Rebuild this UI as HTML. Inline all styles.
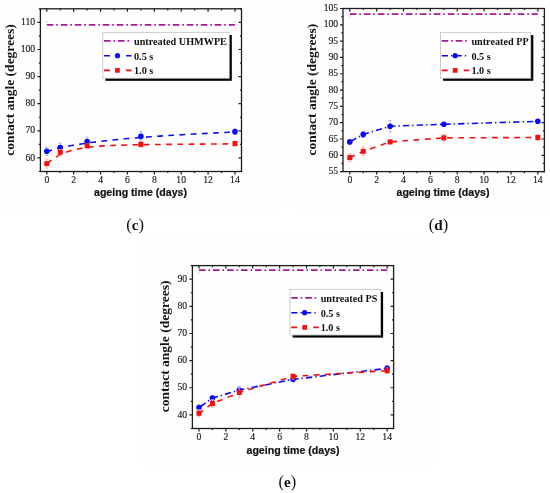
<!DOCTYPE html>
<html><head><meta charset="utf-8"><style>
html,body{margin:0;padding:0;background:#fff;}
svg{display:block;}
</style></head><body>
<svg width="550" height="493" viewBox="0 0 550 493">
<rect width="550" height="493" fill="#ffffff"/>
<rect x="0" y="0" width="283" height="209.5" fill="#fefefe"/>
<rect x="290" y="0" width="260" height="209.5" fill="#fefefe"/>
<rect x="139.6" y="238" width="294.9" height="227.6" fill="#fefefe"/>
<path d="M46.8,151.68 L49.94,150.65 L53.07,149.72 L56.21,148.88 L59.34,148.1 L62.48,147.38 L65.62,146.71 L68.75,146.09 L71.89,145.5 L75.02,144.95 L78.16,144.43 L81.3,143.93 L84.43,143.46 L87.57,143.01 L90.7,142.58 L93.84,142.17 L96.98,141.78 L100.11,141.4 L103.25,141.04 L106.38,140.69 L109.52,140.35 L112.66,140.02 L115.79,139.7 L118.93,139.4 L122.06,139.1 L125.2,138.82 L128.34,138.54 L131.47,138.26 L134.61,138 L137.74,137.74 L140.88,137.49 L144.02,137.25 L147.15,137.01 L150.29,136.78 L153.42,136.56 L156.56,136.33 L159.7,136.12 L162.83,135.91 L165.97,135.7 L169.1,135.5 L172.24,135.3 L175.38,135.1 L178.51,134.91 L181.65,134.73 L184.78,134.54 L187.92,134.37 L191.06,134.19 L194.19,134.02 L197.33,133.85 L200.46,133.68 L203.6,133.51 L206.74,133.35 L209.87,133.19 L213.01,133.04 L216.14,132.88 L219.28,132.73 L222.42,132.58 L225.55,132.44 L228.69,132.29 L231.82,132.15 L234.96,132.01" fill="none" stroke="#0a0af5" stroke-width="1.6" stroke-dasharray="5.8 5.4" stroke-dashoffset="0.36"/>
<path d="M46.8,163.93 L49.94,161.21 L53.07,158.87 L56.21,156.87 L59.34,155.16 L62.48,153.68 L65.62,152.42 L68.75,151.33 L71.89,150.4 L75.02,149.6 L78.16,148.91 L81.3,148.32 L84.43,147.81 L87.57,147.37 L90.7,146.99 L93.84,146.66 L96.98,146.38 L100.11,146.13 L103.25,145.92 L106.38,145.73 L109.52,145.57 L112.66,145.43 L115.79,145.3 L118.93,145.19 L122.06,145.09 L125.2,145.01 L128.34,144.93 L131.47,144.86 L134.61,144.8 L137.74,144.74 L140.88,144.69 L144.02,144.64 L147.15,144.6 L150.29,144.56 L153.42,144.52 L156.56,144.48 L159.7,144.45 L162.83,144.42 L165.97,144.39 L169.1,144.36 L172.24,144.33 L175.38,144.3 L178.51,144.27 L181.65,144.25 L184.78,144.22 L187.92,144.2 L191.06,144.17 L194.19,144.15 L197.33,144.13 L200.46,144.1 L203.6,144.08 L206.74,144.06 L209.87,144.03 L213.01,144.01 L216.14,143.99 L219.28,143.97 L222.42,143.94 L225.55,143.92 L228.69,143.9 L231.82,143.88 L234.96,143.85" fill="none" stroke="#f51010" stroke-width="1.6" stroke-dasharray="5.8 5.4" stroke-dashoffset="10.94"/>
<line x1="46.8" y1="24.93" x2="234.96" y2="24.93" stroke="#a8189a" stroke-width="1.7" stroke-dasharray="6.6 2.9 1.6 2.9"/>
<path d="M45.6,21.93 h2.4 M45.6,27.93 h2.4" stroke="#e9b7e4" stroke-width="0.8" fill="none"/>
<path d="M233.76,21.93 h2.4 M233.76,27.93 h2.4" stroke="#e9b7e4" stroke-width="0.8" fill="none"/>
<path d="M46.8,147.23 V155.37 M45.2,147.23 h3.2 M45.2,155.37 h3.2" stroke="#a8a8ff" stroke-width="0.9" fill="none"/>
<circle cx="46.8" cy="151.3" r="2.8" fill="#0a0af5"/>
<path d="M60.24,143.16 V151.84 M58.64,143.16 h3.2 M58.64,151.84 h3.2" stroke="#a8a8ff" stroke-width="0.9" fill="none"/>
<circle cx="60.24" cy="147.5" r="2.8" fill="#0a0af5"/>
<path d="M87.12,137.2 V145.87 M85.52,137.2 h3.2 M85.52,145.87 h3.2" stroke="#a8a8ff" stroke-width="0.9" fill="none"/>
<circle cx="87.12" cy="141.54" r="2.8" fill="#0a0af5"/>
<path d="M140.88,131.5 V141.26 M139.28,131.5 h3.2 M139.28,141.26 h3.2" stroke="#a8a8ff" stroke-width="0.9" fill="none"/>
<circle cx="140.88" cy="136.38" r="2.8" fill="#0a0af5"/>
<path d="M234.96,128.93 V134.35 M233.36,128.93 h3.2 M233.36,134.35 h3.2" stroke="#a8a8ff" stroke-width="0.9" fill="none"/>
<circle cx="234.96" cy="131.64" r="2.8" fill="#0a0af5"/>
<path d="M46.8,159.16 V168.11 M45.2,159.16 h3.2 M45.2,168.11 h3.2" stroke="#ffa8a8" stroke-width="0.9" fill="none"/>
<rect x="44.3" y="161.14" width="5" height="5" fill="#f51010"/>
<path d="M60.24,149.54 V154.96 M58.64,149.54 h3.2 M58.64,154.96 h3.2" stroke="#ffa8a8" stroke-width="0.9" fill="none"/>
<rect x="57.74" y="149.75" width="5" height="5" fill="#f51010"/>
<path d="M87.12,143.57 V147.91 M85.52,143.57 h3.2 M85.52,147.91 h3.2" stroke="#ffa8a8" stroke-width="0.9" fill="none"/>
<rect x="84.62" y="143.24" width="5" height="5" fill="#f51010"/>
<path d="M140.88,141.67 V147.09 M139.28,141.67 h3.2 M139.28,147.09 h3.2" stroke="#ffa8a8" stroke-width="0.9" fill="none"/>
<rect x="138.38" y="141.88" width="5" height="5" fill="#f51010"/>
<path d="M234.96,140.86 V146.28 M233.36,140.86 h3.2 M233.36,146.28 h3.2" stroke="#ffa8a8" stroke-width="0.9" fill="none"/>
<rect x="232.46" y="141.07" width="5" height="5" fill="#f51010"/>
<rect x="40.4" y="8.8" width="201.1" height="162.7" fill="none" stroke="#1c1c1c" stroke-width="1.3"/>
<path d="M46.8,171.5 v3 M46.8,8.8 v3 M60.24,171.5 v1.6 M60.24,8.8 v1.6 M73.68,171.5 v3 M73.68,8.8 v3 M87.12,171.5 v1.6 M87.12,8.8 v1.6 M100.56,171.5 v3 M100.56,8.8 v3 M114,171.5 v1.6 M114,8.8 v1.6 M127.44,171.5 v3 M127.44,8.8 v3 M140.88,171.5 v1.6 M140.88,8.8 v1.6 M154.32,171.5 v3 M154.32,8.8 v3 M167.76,171.5 v1.6 M167.76,8.8 v1.6 M181.2,171.5 v3 M181.2,8.8 v3 M194.64,171.5 v1.6 M194.64,8.8 v1.6 M208.08,171.5 v3 M208.08,8.8 v3 M221.52,171.5 v1.6 M221.52,8.8 v1.6 M234.96,171.5 v3 M234.96,8.8 v3 M40.4,171.5 h-1.6 M241.5,171.5 h-1.6 M40.4,157.94 h-3 M241.5,157.94 h-3 M40.4,144.38 h-1.6 M241.5,144.38 h-1.6 M40.4,130.82 h-3 M241.5,130.82 h-3 M40.4,117.27 h-1.6 M241.5,117.27 h-1.6 M40.4,103.71 h-3 M241.5,103.71 h-3 M40.4,90.15 h-1.6 M241.5,90.15 h-1.6 M40.4,76.59 h-3 M241.5,76.59 h-3 M40.4,63.03 h-1.6 M241.5,63.03 h-1.6 M40.4,49.48 h-3 M241.5,49.48 h-3 M40.4,35.92 h-1.6 M241.5,35.92 h-1.6 M40.4,22.36 h-3 M241.5,22.36 h-3 M40.4,8.8 h-1.6 M241.5,8.8 h-1.6" stroke="#1c1c1c" stroke-width="1.2" fill="none"/>
<g font-family="'Liberation Serif', 'Times New Roman', serif" font-size="9.7" fill="#1a1a1a" stroke="#1a1a1a" stroke-width="0.15"><text x="46.8" y="183.2" text-anchor="middle">0</text><text x="73.68" y="183.2" text-anchor="middle">2</text><text x="100.56" y="183.2" text-anchor="middle">4</text><text x="127.44" y="183.2" text-anchor="middle">6</text><text x="154.32" y="183.2" text-anchor="middle">8</text><text x="181.2" y="183.2" text-anchor="middle">10</text><text x="208.08" y="183.2" text-anchor="middle">12</text><text x="234.96" y="183.2" text-anchor="middle">14</text><text x="35.2" y="160.54" text-anchor="end">60</text><text x="35.2" y="133.42" text-anchor="end">70</text><text x="35.2" y="106.31" text-anchor="end">80</text><text x="35.2" y="79.19" text-anchor="end">90</text><text x="35.2" y="52.08" text-anchor="end">100</text><text x="35.2" y="24.96" text-anchor="end">110</text></g>
<text x="140.5" y="195.5" font-family="'Liberation Sans', Arial, sans-serif" font-weight="bold" font-size="10.6" text-anchor="middle" fill="#111" stroke="#111" stroke-width="0.2">ageing time (days)</text>
<text transform="translate(13.5,90) rotate(-90)" font-family="'Liberation Serif', 'Times New Roman', serif" font-weight="bold" font-size="13.5" text-anchor="middle" fill="#111">contact angle (degrees)</text>
<rect x="105.4" y="35" width="126.4" height="45.8" fill="#000"/>
<rect x="102.8" y="32.4" width="126.4" height="45.8" fill="#fff" stroke="#c8c8c8" stroke-width="0.9"/>
<line x1="104" y1="40.8" x2="131.5" y2="40.8" stroke="#a8189a" stroke-width="1.7" stroke-dasharray="6.6 2.9 1.6 2.9"/>
<line x1="104" y1="55.7" x2="131.5" y2="55.7" stroke="#0a0af5" stroke-width="1.6" stroke-dasharray="6 16 6"/>
<circle cx="117.45" cy="55.7" r="2.6" fill="#0a0af5"/>
<line x1="104" y1="70.4" x2="131.5" y2="70.4" stroke="#f51010" stroke-width="1.6" stroke-dasharray="6 16 6"/>
<rect x="115.1" y="68.05" width="4.7" height="4.7" fill="#f51010"/>
<text x="134" y="44.6" font-family="'Liberation Serif', 'Times New Roman', serif" font-weight="bold" font-size="10.2" fill="#111">untreated UHMWPE</text>
<text x="134" y="59.5" font-family="'Liberation Serif', 'Times New Roman', serif" font-weight="bold" font-size="10.2" fill="#111">0.5 s</text>
<text x="134" y="74.2" font-family="'Liberation Serif', 'Times New Roman', serif" font-weight="bold" font-size="10.2" fill="#111">1.0 s</text>
<text x="135.2" y="229.9" font-family="'Liberation Serif', 'Times New Roman', serif" font-size="16.5" text-anchor="middle" fill="#111">(<tspan font-weight="bold" font-size="15.2">c</tspan>)</text>
<path d="M349.8,141.92 L363.23,134.41 L390.09,126.26 L443.81,124.3 L537.82,121.37" fill="none" stroke="#0a0af5" stroke-width="1.6" stroke-dasharray="6.3 3.05 1.3 3.15" stroke-dashoffset="12.7"/>
<path d="M349.8,157.57 L363.23,151.38 L390.09,141.92 L443.81,137.84 L537.82,137.51" fill="none" stroke="#f51010" stroke-width="1.6" stroke-dasharray="5.8 5.4" stroke-dashoffset="0.37"/>
<line x1="349.8" y1="14.05" x2="537.82" y2="14.05" stroke="#a8189a" stroke-width="1.7" stroke-dasharray="6.6 2.9 1.6 2.9"/>
<path d="M348.6,11.05 h2.4 M348.6,17.05 h2.4" stroke="#e9b7e4" stroke-width="0.8" fill="none"/>
<path d="M536.62,11.05 h2.4 M536.62,17.05 h2.4" stroke="#e9b7e4" stroke-width="0.8" fill="none"/>
<path d="M349.8,139.96 V143.87 M348.2,139.96 h3.2 M348.2,143.87 h3.2" stroke="#a8a8ff" stroke-width="0.9" fill="none"/>
<circle cx="349.8" cy="141.92" r="2.8" fill="#0a0af5"/>
<path d="M363.23,131.15 V137.68 M361.63,131.15 h3.2 M361.63,137.68 h3.2" stroke="#a8a8ff" stroke-width="0.9" fill="none"/>
<circle cx="363.23" cy="134.41" r="2.8" fill="#0a0af5"/>
<path d="M390.09,120.39 V132.13 M388.49,120.39 h3.2 M388.49,132.13 h3.2" stroke="#a8a8ff" stroke-width="0.9" fill="none"/>
<circle cx="390.09" cy="126.26" r="2.8" fill="#0a0af5"/>
<path d="M443.81,122.34 V126.26 M442.21,122.34 h3.2 M442.21,126.26 h3.2" stroke="#a8a8ff" stroke-width="0.9" fill="none"/>
<circle cx="443.81" cy="124.3" r="2.8" fill="#0a0af5"/>
<path d="M537.82,119.73 V123 M536.22,119.73 h3.2 M536.22,123 h3.2" stroke="#a8a8ff" stroke-width="0.9" fill="none"/>
<circle cx="537.82" cy="121.37" r="2.8" fill="#0a0af5"/>
<path d="M349.8,153.66 V161.49 M348.2,153.66 h3.2 M348.2,161.49 h3.2" stroke="#ffa8a8" stroke-width="0.9" fill="none"/>
<rect x="347.3" y="155.07" width="5" height="5" fill="#f51010"/>
<path d="M363.23,146.81 V155.94 M361.63,146.81 h3.2 M361.63,155.94 h3.2" stroke="#ffa8a8" stroke-width="0.9" fill="none"/>
<rect x="360.73" y="148.88" width="5" height="5" fill="#f51010"/>
<path d="M390.09,139.96 V143.87 M388.49,139.96 h3.2 M388.49,143.87 h3.2" stroke="#ffa8a8" stroke-width="0.9" fill="none"/>
<rect x="387.59" y="139.42" width="5" height="5" fill="#f51010"/>
<path d="M443.81,134.58 V141.1 M442.21,134.58 h3.2 M442.21,141.1 h3.2" stroke="#ffa8a8" stroke-width="0.9" fill="none"/>
<rect x="441.31" y="135.34" width="5" height="5" fill="#f51010"/>
<path d="M537.82,134.58 V140.45 M536.22,134.58 h3.2 M536.22,140.45 h3.2" stroke="#ffa8a8" stroke-width="0.9" fill="none"/>
<rect x="535.32" y="135.01" width="5" height="5" fill="#f51010"/>
<rect x="343" y="8.5" width="201.4" height="163.1" fill="none" stroke="#1c1c1c" stroke-width="1.3"/>
<path d="M349.8,171.6 v3 M349.8,8.5 v3 M363.23,171.6 v1.6 M363.23,8.5 v1.6 M376.66,171.6 v3 M376.66,8.5 v3 M390.09,171.6 v1.6 M390.09,8.5 v1.6 M403.52,171.6 v3 M403.52,8.5 v3 M416.95,171.6 v1.6 M416.95,8.5 v1.6 M430.38,171.6 v3 M430.38,8.5 v3 M443.81,171.6 v1.6 M443.81,8.5 v1.6 M457.24,171.6 v3 M457.24,8.5 v3 M470.67,171.6 v1.6 M470.67,8.5 v1.6 M484.1,171.6 v3 M484.1,8.5 v3 M497.53,171.6 v1.6 M497.53,8.5 v1.6 M510.96,171.6 v3 M510.96,8.5 v3 M524.39,171.6 v1.6 M524.39,8.5 v1.6 M537.82,171.6 v3 M537.82,8.5 v3 M343,171.6 h-3 M544.4,171.6 h-3 M343,163.44 h-1.6 M544.4,163.44 h-1.6 M343,155.29 h-3 M544.4,155.29 h-3 M343,147.13 h-1.6 M544.4,147.13 h-1.6 M343,138.98 h-3 M544.4,138.98 h-3 M343,130.82 h-1.6 M544.4,130.82 h-1.6 M343,122.67 h-3 M544.4,122.67 h-3 M343,114.51 h-1.6 M544.4,114.51 h-1.6 M343,106.36 h-3 M544.4,106.36 h-3 M343,98.2 h-1.6 M544.4,98.2 h-1.6 M343,90.05 h-3 M544.4,90.05 h-3 M343,81.89 h-1.6 M544.4,81.89 h-1.6 M343,73.74 h-3 M544.4,73.74 h-3 M343,65.58 h-1.6 M544.4,65.58 h-1.6 M343,57.43 h-3 M544.4,57.43 h-3 M343,49.27 h-1.6 M544.4,49.27 h-1.6 M343,41.12 h-3 M544.4,41.12 h-3 M343,32.97 h-1.6 M544.4,32.97 h-1.6 M343,24.81 h-3 M544.4,24.81 h-3 M343,16.66 h-1.6 M544.4,16.66 h-1.6 M343,8.5 h-3 M544.4,8.5 h-3" stroke="#1c1c1c" stroke-width="1.2" fill="none"/>
<g font-family="'Liberation Serif', 'Times New Roman', serif" font-size="9.7" fill="#1a1a1a" stroke="#1a1a1a" stroke-width="0.15"><text x="349.8" y="183.3" text-anchor="middle">0</text><text x="376.66" y="183.3" text-anchor="middle">2</text><text x="403.52" y="183.3" text-anchor="middle">4</text><text x="430.38" y="183.3" text-anchor="middle">6</text><text x="457.24" y="183.3" text-anchor="middle">8</text><text x="484.1" y="183.3" text-anchor="middle">10</text><text x="510.96" y="183.3" text-anchor="middle">12</text><text x="537.82" y="183.3" text-anchor="middle">14</text><text x="338.2" y="174.2" text-anchor="end">55</text><text x="338.2" y="157.89" text-anchor="end">60</text><text x="338.2" y="141.58" text-anchor="end">65</text><text x="338.2" y="125.27" text-anchor="end">70</text><text x="338.2" y="108.96" text-anchor="end">75</text><text x="338.2" y="92.65" text-anchor="end">80</text><text x="338.2" y="76.34" text-anchor="end">85</text><text x="338.2" y="60.03" text-anchor="end">90</text><text x="338.2" y="43.72" text-anchor="end">95</text><text x="338.2" y="27.41" text-anchor="end">100</text><text x="338.2" y="11.1" text-anchor="end">105</text></g>
<text x="443" y="196" font-family="'Liberation Sans', Arial, sans-serif" font-weight="bold" font-size="10.6" text-anchor="middle" fill="#111" stroke="#111" stroke-width="0.2">ageing time (days)</text>
<text transform="translate(316,89.6) rotate(-90)" font-family="'Liberation Serif', 'Times New Roman', serif" font-weight="bold" font-size="13.5" text-anchor="middle" fill="#111">contact angle (degrees)</text>
<rect x="443.1" y="35" width="90.2" height="45.8" fill="#000"/>
<rect x="440.5" y="32.4" width="90.2" height="45.8" fill="#fff" stroke="#c8c8c8" stroke-width="0.9"/>
<line x1="441.7" y1="40.8" x2="469.2" y2="40.8" stroke="#a8189a" stroke-width="1.7" stroke-dasharray="6.6 2.9 1.6 2.9"/>
<line x1="441.7" y1="55.7" x2="469.2" y2="55.7" stroke="#0a0af5" stroke-width="1.6" stroke-dasharray="6.3 3.05 1.3 3.15"/>
<circle cx="455.15" cy="55.7" r="2.6" fill="#0a0af5"/>
<line x1="441.7" y1="70.4" x2="469.2" y2="70.4" stroke="#f51010" stroke-width="1.6" stroke-dasharray="6 16 6"/>
<rect x="452.8" y="68.05" width="4.7" height="4.7" fill="#f51010"/>
<text x="471.4" y="44.6" font-family="'Liberation Serif', 'Times New Roman', serif" font-weight="bold" font-size="10.2" fill="#111">untreated PP</text>
<text x="471.4" y="59.5" font-family="'Liberation Serif', 'Times New Roman', serif" font-weight="bold" font-size="10.2" fill="#111">0.5 s</text>
<text x="471.4" y="74.2" font-family="'Liberation Serif', 'Times New Roman', serif" font-weight="bold" font-size="10.2" fill="#111">1.0 s</text>
<text x="438.6" y="230" font-family="'Liberation Serif', 'Times New Roman', serif" font-size="16.5" text-anchor="middle" fill="#111">(<tspan font-weight="bold" font-size="15.2">d</tspan>)</text>
<path d="M199,407.59 L212.44,398.09 L239.32,390.08 L293.08,379.36 L387.16,368.36" fill="none" stroke="#0a0af5" stroke-width="1.6" stroke-dasharray="6.3 3.05 1.3 3.15" stroke-dashoffset="11.9"/>
<path d="M199,413.3 L212.44,403.52 L239.32,392.53 L293.08,376.37 L387.16,370.67" fill="none" stroke="#f51010" stroke-width="1.6" stroke-dasharray="5.8 5.4" stroke-dashoffset="0.73"/>
<line x1="199" y1="270.22" x2="387.16" y2="270.22" stroke="#a8189a" stroke-width="1.7" stroke-dasharray="6.6 2.9 1.6 2.9"/>
<path d="M197.8,267.22 h2.4 M197.8,273.22 h2.4" stroke="#e9b7e4" stroke-width="0.8" fill="none"/>
<path d="M385.96,267.22 h2.4 M385.96,273.22 h2.4" stroke="#e9b7e4" stroke-width="0.8" fill="none"/>
<path d="M199,404.88 V410.31 M197.4,404.88 h3.2 M197.4,410.31 h3.2" stroke="#a8a8ff" stroke-width="0.9" fill="none"/>
<circle cx="199" cy="407.59" r="2.8" fill="#0a0af5"/>
<path d="M212.44,395.65 V400.54 M210.84,395.65 h3.2 M210.84,400.54 h3.2" stroke="#a8a8ff" stroke-width="0.9" fill="none"/>
<circle cx="212.44" cy="398.09" r="2.8" fill="#0a0af5"/>
<path d="M239.32,386.28 V393.88 M237.72,386.28 h3.2 M237.72,393.88 h3.2" stroke="#a8a8ff" stroke-width="0.9" fill="none"/>
<circle cx="239.32" cy="390.08" r="2.8" fill="#0a0af5"/>
<path d="M293.08,376.64 V382.07 M291.48,376.64 h3.2 M291.48,382.07 h3.2" stroke="#a8a8ff" stroke-width="0.9" fill="none"/>
<circle cx="293.08" cy="379.36" r="2.8" fill="#0a0af5"/>
<path d="M387.16,365.65 V371.08 M385.56,365.65 h3.2 M385.56,371.08 h3.2" stroke="#a8a8ff" stroke-width="0.9" fill="none"/>
<circle cx="387.16" cy="368.36" r="2.8" fill="#0a0af5"/>
<path d="M199,409.77 V416.83 M197.4,409.77 h3.2 M197.4,416.83 h3.2" stroke="#ffa8a8" stroke-width="0.9" fill="none"/>
<rect x="196.5" y="410.8" width="5" height="5" fill="#f51010"/>
<path d="M212.44,399.72 V407.32 M210.84,399.72 h3.2 M210.84,407.32 h3.2" stroke="#ffa8a8" stroke-width="0.9" fill="none"/>
<rect x="209.94" y="401.02" width="5" height="5" fill="#f51010"/>
<path d="M239.32,387.91 V397.14 M237.72,387.91 h3.2 M237.72,397.14 h3.2" stroke="#ffa8a8" stroke-width="0.9" fill="none"/>
<rect x="236.82" y="390.03" width="5" height="5" fill="#f51010"/>
<path d="M293.08,373.66 V379.09 M291.48,373.66 h3.2 M291.48,379.09 h3.2" stroke="#ffa8a8" stroke-width="0.9" fill="none"/>
<rect x="290.58" y="373.87" width="5" height="5" fill="#f51010"/>
<path d="M387.16,367.96 V373.39 M385.56,367.96 h3.2 M385.56,373.39 h3.2" stroke="#ffa8a8" stroke-width="0.9" fill="none"/>
<rect x="384.66" y="368.17" width="5" height="5" fill="#f51010"/>
<rect x="192.4" y="265.6" width="201.2" height="162.9" fill="none" stroke="#1c1c1c" stroke-width="1.3"/>
<path d="M199,428.5 v3 M199,265.6 v3 M212.44,428.5 v1.6 M212.44,265.6 v1.6 M225.88,428.5 v3 M225.88,265.6 v3 M239.32,428.5 v1.6 M239.32,265.6 v1.6 M252.76,428.5 v3 M252.76,265.6 v3 M266.2,428.5 v1.6 M266.2,265.6 v1.6 M279.64,428.5 v3 M279.64,265.6 v3 M293.08,428.5 v1.6 M293.08,265.6 v1.6 M306.52,428.5 v3 M306.52,265.6 v3 M319.96,428.5 v1.6 M319.96,265.6 v1.6 M333.4,428.5 v3 M333.4,265.6 v3 M346.84,428.5 v1.6 M346.84,265.6 v1.6 M360.28,428.5 v3 M360.28,265.6 v3 M373.72,428.5 v1.6 M373.72,265.6 v1.6 M387.16,428.5 v3 M387.16,265.6 v3 M192.4,428.5 h-1.6 M393.6,428.5 h-1.6 M192.4,414.93 h-3 M393.6,414.93 h-3 M192.4,401.35 h-1.6 M393.6,401.35 h-1.6 M192.4,387.77 h-3 M393.6,387.77 h-3 M192.4,374.2 h-1.6 M393.6,374.2 h-1.6 M192.4,360.62 h-3 M393.6,360.62 h-3 M192.4,347.05 h-1.6 M393.6,347.05 h-1.6 M192.4,333.48 h-3 M393.6,333.48 h-3 M192.4,319.9 h-1.6 M393.6,319.9 h-1.6 M192.4,306.33 h-3 M393.6,306.33 h-3 M192.4,292.75 h-1.6 M393.6,292.75 h-1.6 M192.4,279.18 h-3 M393.6,279.18 h-3 M192.4,265.6 h-1.6 M393.6,265.6 h-1.6" stroke="#1c1c1c" stroke-width="1.2" fill="none"/>
<g font-family="'Liberation Serif', 'Times New Roman', serif" font-size="9.7" fill="#1a1a1a" stroke="#1a1a1a" stroke-width="0.15"><text x="199" y="440.2" text-anchor="middle">0</text><text x="225.88" y="440.2" text-anchor="middle">2</text><text x="252.76" y="440.2" text-anchor="middle">4</text><text x="279.64" y="440.2" text-anchor="middle">6</text><text x="306.52" y="440.2" text-anchor="middle">8</text><text x="333.4" y="440.2" text-anchor="middle">10</text><text x="360.28" y="440.2" text-anchor="middle">12</text><text x="387.16" y="440.2" text-anchor="middle">14</text><text x="187.2" y="417.53" text-anchor="end">40</text><text x="187.2" y="390.38" text-anchor="end">50</text><text x="187.2" y="363.23" text-anchor="end">60</text><text x="187.2" y="336.08" text-anchor="end">70</text><text x="187.2" y="308.93" text-anchor="end">80</text><text x="187.2" y="281.78" text-anchor="end">90</text></g>
<text x="293" y="453.6" font-family="'Liberation Sans', Arial, sans-serif" font-weight="bold" font-size="10.6" text-anchor="middle" fill="#111" stroke="#111" stroke-width="0.2">ageing time (days)</text>
<text transform="translate(168.5,346.4) rotate(-90)" font-family="'Liberation Serif', 'Times New Roman', serif" font-weight="bold" font-size="13.5" text-anchor="middle" fill="#111">contact angle (degrees)</text>
<rect x="292.6" y="292" width="90.5" height="45.6" fill="#000"/>
<rect x="290" y="289.4" width="90.5" height="45.6" fill="#fff" stroke="#c8c8c8" stroke-width="0.9"/>
<line x1="291.2" y1="297.8" x2="318.7" y2="297.8" stroke="#a8189a" stroke-width="1.7" stroke-dasharray="6.6 2.9 1.6 2.9"/>
<line x1="291.2" y1="312.7" x2="318.7" y2="312.7" stroke="#0a0af5" stroke-width="1.6" stroke-dasharray="6.3 3.05 1.3 3.15"/>
<circle cx="304.65" cy="312.7" r="2.6" fill="#0a0af5"/>
<line x1="291.2" y1="327.4" x2="318.7" y2="327.4" stroke="#f51010" stroke-width="1.6" stroke-dasharray="6 16 6"/>
<rect x="302.3" y="325.05" width="4.7" height="4.7" fill="#f51010"/>
<text x="320.7" y="301.6" font-family="'Liberation Serif', 'Times New Roman', serif" font-weight="bold" font-size="10.2" fill="#111">untreated PS</text>
<text x="320.7" y="316.5" font-family="'Liberation Serif', 'Times New Roman', serif" font-weight="bold" font-size="10.2" fill="#111">0.5 s</text>
<text x="320.7" y="331.2" font-family="'Liberation Serif', 'Times New Roman', serif" font-weight="bold" font-size="10.2" fill="#111">1.0 s</text>
<text x="287.4" y="487.3" font-family="'Liberation Serif', 'Times New Roman', serif" font-size="16.5" text-anchor="middle" fill="#111">(<tspan font-weight="bold" font-size="15.2">e</tspan>)</text>
</svg>
</body></html>
